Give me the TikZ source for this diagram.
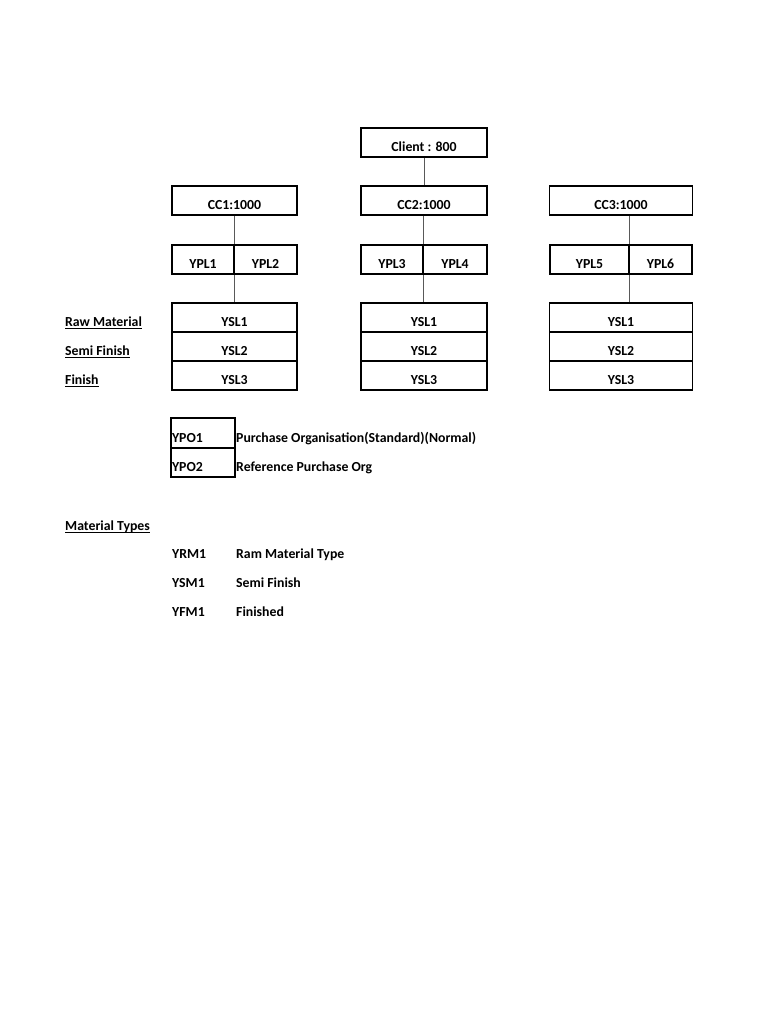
\documentclass[tikz,border=0pt]{standalone}
\usepackage{fontspec}
\setmainfont{Carlito}
\usetikzlibrary{positioning}

\newcommand\cellfont{\bfseries\fontsize{13.8}{16}\selectfont}
\newcommand\ulabel[1]{\setbox0\hbox{#1}\rlap{\rule[-2.6pt]{\wd0}{0.9pt}}\box0}

\tikzset{
  cell/.style={draw=black, line width=1.6pt, minimum height=29pt, inner sep=0pt,
    text height=18pt, text depth=0pt, font=\cellfont},
  leftcell/.style={cell, align=left, inner xsep=1pt},
  link/.style={draw=black!65, line width=0.9pt},
  lbl/.style={anchor=base west, inner sep=0pt, font=\cellfont},
}

\begin{document}
\begin{tikzpicture}[x=1pt,y=-1pt]
\useasboundingbox (0,0) rectangle (768,1024);

% client and company codes
\node[cell, minimum width=126pt] (client) at (424,142.5) {Client : 800};
\node[cell, minimum width=125pt] (cc1) at (234.5,200.5) {CC1:1000};
\node[cell, minimum width=126pt] (cc2) at (424,200.5) {CC2:1000};
\node[cell, minimum width=143pt] (cc3) at (621,200.5) {CC3:1000};

% plants
\node[cell, minimum width=62pt] (ypl1) at (203,259.5) {YPL1};
\node[cell, minimum width=63pt] (ypl2) at (265.5,259.5) {YPL2};
\node[cell, minimum width=62pt] (ypl3) at (392,259.5) {YPL3};
\node[cell, minimum width=64pt] (ypl4) at (455,259.5) {YPL4};
\node[cell, minimum width=79pt] (ypl5) at (589.5,259.5) {YPL5};
\node[cell, minimum width=63pt] (ypl6) at (660.5,259.5) {YPL6};

% storage locations
\node[cell, minimum width=125pt] (ysla1) at (234.5,317.5) {YSL1};
\node[cell, minimum width=125pt] (ysla2) at (234.5,346.5) {YSL2};
\node[cell, minimum width=125pt] (ysla3) at (234.5,375.5) {YSL3};
\node[cell, minimum width=126pt] (yslb1) at (424,317.5) {YSL1};
\node[cell, minimum width=126pt] (yslb2) at (424,346.5) {YSL2};
\node[cell, minimum width=126pt] (yslb3) at (424,375.5) {YSL3};
\node[cell, minimum width=143pt] (yslc1) at (621,317.5) {YSL1};
\node[cell, minimum width=143pt] (yslc2) at (621,346.5) {YSL2};
\node[cell, minimum width=143pt] (yslc3) at (621,375.5) {YSL3};

% links
\draw[link] (client) -- (cc2);
\draw[link] (cc1.south -| ypl1.north east) -- (ypl1.north east);
\draw[link] (ypl1.south east) -- (ypl1.south east |- ysla1.north);
\draw[link] (cc2.south -| ypl3.north east) -- (ypl3.north east);
\draw[link] (ypl3.south east) -- (ypl3.south east |- yslb1.north);
\draw[link] (cc3.south -| ypl5.north east) -- (ypl5.north east);
\draw[link] (ypl5.south east) -- (ypl5.south east |- yslc1.north);

% row labels
\node[lbl] (lraw) at (65,326) {\ulabel{Raw Material}};
\node[lbl] (lsemi) at (65,355) {\ulabel{Semi Finish}};
\node[lbl] (lfin) at (65,384) {\ulabel{Finish}};

% purchase organisations
\node[leftcell, text width=62pt, minimum height=30pt] (ypo1) at (203,433) {YPO1};
\node[leftcell, text width=62pt] (ypo2) at (203,462.5) {YPO2};
\node[lbl] (dpo1) at (236,442) {Purchase Organisation(Standard)(Normal)};
\node[lbl] (dpo2) at (236,471) {Reference Purchase Org};

% material types
\node[lbl] (lmat) at (65,530) {\ulabel{Material Types}};
\node[lbl] (yrm) at (172,558) {YRM1};
\node[lbl] (ysm) at (172,587) {YSM1};
\node[lbl] (yfm) at (172,616) {YFM1};
\node[lbl] (drm) at (236,558) {Ram Material Type};
\node[lbl] (dsm) at (236,587) {Semi Finish};
\node[lbl] (dfm) at (236,616) {Finished};

\end{tikzpicture}
\end{document}
